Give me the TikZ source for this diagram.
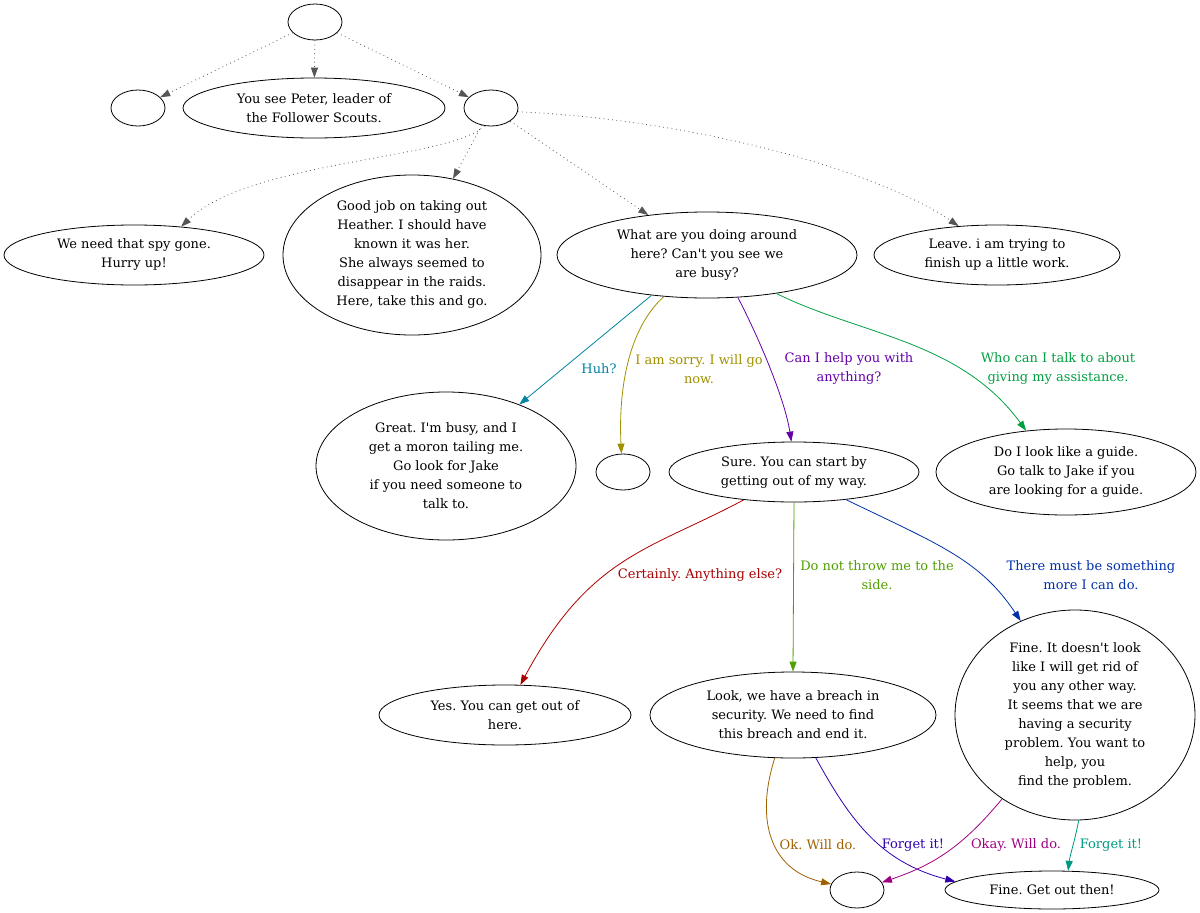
\documentclass[tikz,border=0pt]{standalone}
\usepackage{fontspec}
\setmainfont{DejaVu Serif}[Ligatures=TeXOff]
\usetikzlibrary{shapes.geometric,arrows.meta}
\definecolor{cHuh}{RGB}{0,130,160}
\definecolor{cSorry}{RGB}{160,144,0}
\definecolor{cHelp}{RGB}{100,0,170}
\definecolor{cWho}{RGB}{0,160,64}
\definecolor{cCert}{RGB}{170,0,0}
\definecolor{cThrow}{RGB}{80,160,0}
\definecolor{cMust}{RGB}{0,48,170}
\definecolor{cOk}{RGB}{160,96,0}
\definecolor{cForA}{RGB}{48,0,176}
\definecolor{cOkay}{RGB}{160,0,128}
\definecolor{cForB}{RGB}{0,153,128}
\definecolor{cDot}{RGB}{85,85,85}
\frenchspacing
\begin{document}
\begin{tikzpicture}[x=1pt,y=-1pt,
  every node/.style={font=\fontsize{13}{19}\selectfont, align=center},
  el/.style 2 args={ellipse, draw, line width=0.8pt, inner sep=0pt, minimum width=#1pt, minimum height=#2pt},
  dotedge/.style={draw=cDot, line width=0.8pt, dash pattern=on 0.8pt off 3.5pt, -{Triangle[length=10pt,width=7pt]}},
  ed/.style={line width=0.8pt, -{Triangle[length=10pt,width=7pt]}}]
\useasboundingbox (0,0) rectangle (1200,913);
% nodes
\node[el={54}{36}] (n0) at (315,22) {};
\node[el={54}{36}] (n1) at (138,108) {};
\node[el={262}{60}] (n2) at (314,108) {You see Peter, leader of\\the Follower Scouts.};
\node[el={54}{36}] (n3) at (491,108) {};
\node[el={260}{60}] (n4) at (134,255) {We need that spy gone.\\Hurry up!};
\node[el={258}{160}] (n5) at (412,255) {Good job on taking out\\Heather. I should have\\known it was her.\\She always seemed to\\disappear in the raids.\\Here, take this and go.};
\node[el={300}{86}] (n6) at (707,255) {What are you doing around\\here? Can't you see we\\are busy?};
\node[el={246}{60}] (n7) at (997,255) {Leave. i am trying to\\finish up a little work.};
\node[el={260}{148}] (n8) at (446,466) {Great. I'm busy, and I\\get a moron tailing me.\\Go look for Jake\\if you need someone to\\talk to.};
\node[el={54}{36}] (n9) at (623,472) {};
\node[el={250}{60}] (n10) at (794,472) {Sure. You can start by\\getting out of my way.};
\node[el={260}{86}] (n11) at (1066,472) {Do I look like a guide.\\Go talk to Jake if you\\are looking for a guide.};
\node[el={252}{60}] (n12) at (505,715) {Yes. You can get out of\\here.};
\node[el={286}{86}] (n13) at (793,715) {Look, we have a breach in\\security. We need to find\\this breach and end it.};
\node[el={240}{210}] (n14) at (1075,715) {Fine. It doesn't look\\like I will get rid of\\you any other way.\\It seems that we are\\having a security\\problem. You want to\\help, you\\find the problem.};
\node[el={54}{36}] (n15) at (857,890) {};
\node[el={214}{38}] (n16) at (1052,890) {Fine. Get out then!};
% dotted edges
\draw[dotedge] (n0) -- (n1);
\draw[dotedge] (n0) -- (n2);
\draw[dotedge] (n0) -- (n3);
\draw[dotedge] (n3.250) .. controls (450,160) and (250,160) .. (n4.31);
\draw[dotedge] (n3) -- (n5);
\draw[dotedge] (n3) -- (n6);
\draw[dotedge] (n3.-8) .. controls (700,120) and (880,172) .. (n7.143);
% coloured edges from n6
\draw[ed, cHuh] (n6.216) -- (n8.40);
\node[text=cHuh] (l1) at (599,369) {Huh?};
\draw[ed, cSorry] (n6.224) .. controls (632,325) and (618,380) .. (n9.95);
\node[text=cSorry] (l2) at (699,369) {I am sorry. I will go\\now.};
\draw[ed, cHelp] (n6.306) .. controls (760,340) and (785,400) .. (n10.95);
\node[text=cHelp] (l3) at (849,369) {Can I help you with\\anything?};
\draw[ed, cWho] (n6.331) .. controls (860,335) and (960,340) .. (n11.134);
\node[text=cWho] (l4) at (1058,369) {Who can I talk to about\\giving my assistance.};
% from n10
\draw[ed, cCert] (n10.209) .. controls (650,550) and (590,555) .. (n12.63);
\node[text=cCert] (l5) at (700,575) {Certainly. Anything else?};
\draw[ed, cThrow] (n10.south) -- (n13.north);
\node[text=cThrow] (l6) at (877,575) {Do not throw me to the\\side.};
\draw[ed, cMust] (n10.332) .. controls (940,545) and (980,560) .. (n14.120);
\node[text=cMust] (l7) at (1091,575) {There must be something\\more I can do.};
% from n13
\draw[ed, cOk] (n13.247) .. controls (755,820) and (770,870) .. (n15.167);
\node[text=cOk] (l8) at (818,845) {Ok. Will do.};
\draw[ed, cForA] (n13.298) .. controls (850,820) and (880,862) .. (n16.175);
\node[text=cForA] (l9) at (913,845) {Forget it!};
% from n14
\draw[ed, cOkay] (n14.229) .. controls (960,850) and (930,866) .. (n15.17);
\node[text=cOkay] (l10) at (1016,845) {Okay. Will do.};
\draw[ed, cForB] (n14.-88) .. controls (1075,840) and (1070,855) .. (n16.50);
\node[text=cForB] (l11) at (1111,845) {Forget it!};
\end{tikzpicture}
\end{document}
